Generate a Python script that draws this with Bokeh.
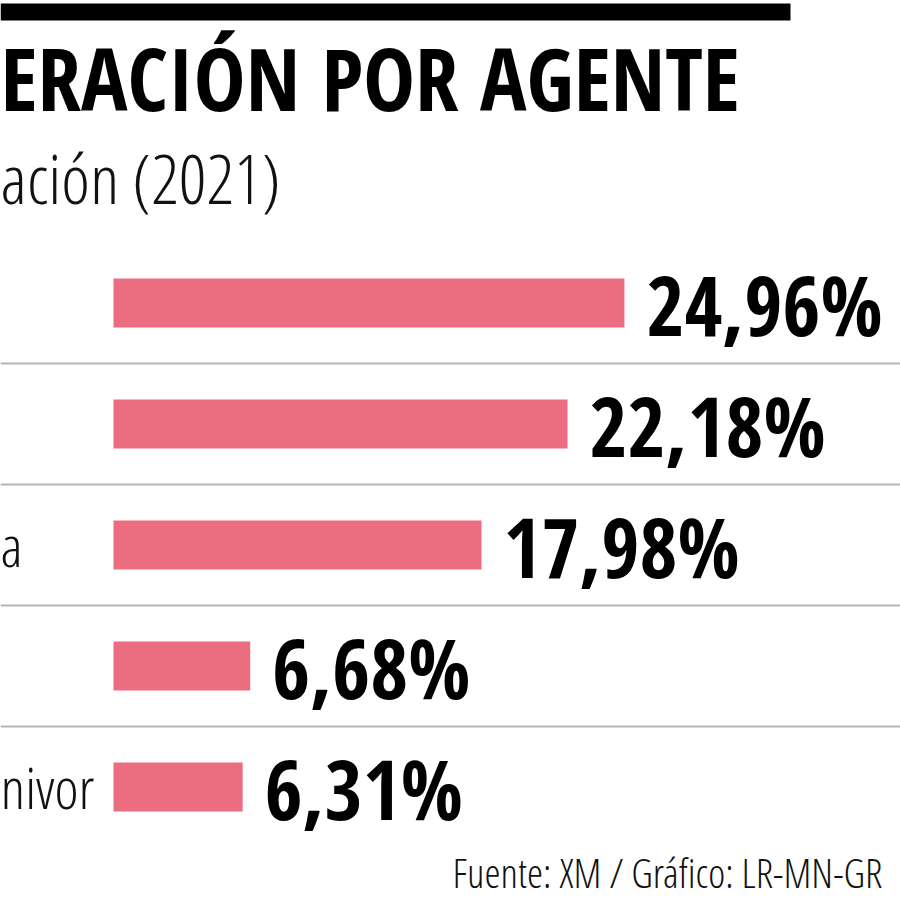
from bokeh.plotting import figure
from bokeh.models import Range1d, Label, BoxAnnotation, ColumnDataSource, Span
from bokeh.core.properties import value
from bokeh.embed import file_html
from bokeh.resources import INLINE

# ---- data ----
categories = ["", "", "a", "", "nivor"]          # visible (cropped) parts of agent names
shares = [24.96, 22.18, 17.98, 6.68, 6.31]      # % of generation 2021
title_text = "ERACIÓN POR AGENTE"
subtitle_text = "ación (2021)"
source_text = "Fuente: XM / Gráfico: LR-MN-GR"

BAR = "#ec6d7f"
BOLD = "'Open Sans Condensed', 'Liberation Sans Narrow', 'DejaVu Sans Condensed', sans-serif"
LIGHT = "'Open Sans Condensed Light', 'Open Sans Condensed', 'DejaVu Sans Condensed', sans-serif"

rows = list(range(len(shares)))
labels = [f"{v:.2f}".replace(".", ",") + "%" for v in shares]
src = ColumnDataSource(dict(y=rows, v=shares, lab=labels, cat=categories,
                            zero=[0] * len(shares)))

px_per_unit = 20.47
x0_px = 113
p = figure(width=900, height=900, output_backend="svg", toolbar_location=None,
           x_axis_location=None, y_axis_location=None, min_border=0,
           x_range=Range1d(-x0_px / px_per_unit, (900 - x0_px) / px_per_unit),
           y_range=Range1d((900 - 302.5) / 121.0, -302.5 / 121.0))
p.outline_line_color = None
p.xgrid.visible = False
p.ygrid.visible = False
p.background_fill_color = "white"
p.border_fill_color = "white"

# separators between rows
for i in range(len(shares) - 1):
    p.add_layout(Span(location=i + 0.5, dimension="width", line_color="#b5b5b5",
                      line_width=2))

p.hbar(y="y", left="zero", right="v", height=0.405, source=src,
       fill_color=BAR, line_color=None)

p.text(x="v", y="y", text="lab", source=src, x_offset=22, y_offset=1,
       text_font=value(BOLD), text_font_style="bold", text_font_size="82px",
       text_baseline="middle", text_align="left", text_color="#000000")

p.text(x=-x0_px / px_per_unit, y="y", text="cat", source=src, x_offset=0, y_offset=-1,
       text_font=value(LIGHT), text_font_size="58px",
       text_baseline="middle", text_align="left", text_color="#111111")

# top rule
p.add_layout(BoxAnnotation(left=0, right=790, top=897, bottom=880,
                           left_units="screen", right_units="screen",
                           top_units="screen", bottom_units="screen",
                           fill_color="#000000", fill_alpha=1.0, line_color=None))

p.add_layout(Label(x=0, y=824, x_units="screen", y_units="screen", text=title_text,
                   text_font=BOLD, text_font_style="bold", text_font_size="87px",
                   text_color="#000000", text_baseline="alphabetic"))
p.add_layout(Label(x=0, y=724, x_units="screen", y_units="screen", text=subtitle_text,
                   text_font=LIGHT, text_font_size="69px",
                   text_color="#111111", text_baseline="alphabetic"))
p.add_layout(Label(x=452, y=29, x_units="screen", y_units="screen", text=source_text,
                   text_font=LIGHT, text_font_size="41px",
                   text_color="#111111", text_baseline="alphabetic"))

open("out.html", "w").write(file_html(p, INLINE))
